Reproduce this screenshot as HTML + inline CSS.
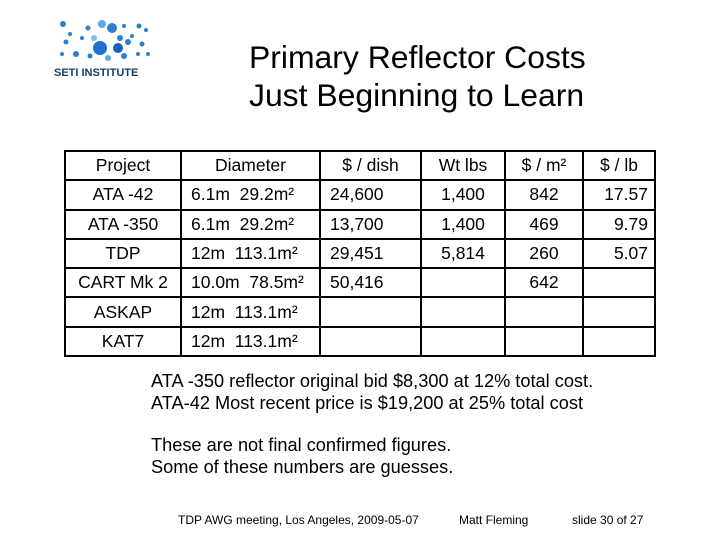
<!DOCTYPE html>
<html><head><meta charset="utf-8"><style>
body{margin:0;width:720px;height:540px;background:#fff;position:relative;font-family:"Liberation Sans",sans-serif;overflow:hidden}
.t{position:absolute;color:#000}
table{position:absolute;left:64px;top:150px;border-collapse:collapse;font-size:17.5px;table-layout:fixed;width:590px}
tr{height:29.3px}
td{border:2px solid #000;padding:0 4px;text-align:center;white-space:nowrap}
td.l{text-align:left;padding-left:9px}
td.r{text-align:right;padding-right:6px}
</style></head><body>
<div style="position:absolute;left:52px;top:16px;width:100px;height:64px">
<svg width="100" height="64">
<g fill="#2a7fd0">
<circle cx="11" cy="8" r="3"/><circle cx="36" cy="12" r="2.5"/><circle cx="50" cy="8" r="4" fill="#5aa9e6"/><circle cx="60" cy="12" r="5"/><circle cx="72" cy="10" r="2"/><circle cx="87" cy="10" r="2.5"/><circle cx="94" cy="14" r="2"/>
<circle cx="18" cy="18" r="2"/><circle cx="30" cy="22" r="2"/><circle cx="42" cy="22" r="3" fill="#7cc0ee"/><circle cx="68" cy="22" r="3"/><circle cx="80" cy="20" r="2"/>
<circle cx="14" cy="26" r="2.5"/><circle cx="48" cy="32" r="7" fill="#1e6fd0"/><circle cx="66" cy="32" r="5" fill="#1a5fc0"/><circle cx="76" cy="26" r="3"/><circle cx="90" cy="28" r="2.5"/>
<circle cx="10" cy="38" r="2"/><circle cx="24" cy="38" r="3"/><circle cx="38" cy="40" r="2.5"/><circle cx="56" cy="42" r="3" fill="#5aa9e6"/><circle cx="72" cy="40" r="3"/><circle cx="86" cy="38" r="2"/><circle cx="96" cy="38" r="2"/>
</g>
<text x="2" y="60" font-family="Liberation Sans" font-size="11" font-weight="bold" fill="#1a3a6a">SETI INSTITUTE</text>
</svg></div>
<div class="t" style="left:249px;top:38px;font-size:31.9px;line-height:38px">Primary Reflector Costs<br>Just Beginning to Learn</div>
<table>
<colgroup><col style="width:116px"><col style="width:139px"><col style="width:101px"><col style="width:84px"><col style="width:78px"><col style="width:72px"></colgroup>
<tr><td>Project</td><td>Diameter</td><td>$ / dish</td><td>Wt lbs</td><td>$ / m²</td><td>$ / lb</td></tr>
<tr><td>ATA -42</td><td class="l">6.1m&nbsp; 29.2m²</td><td class="l">24,600</td><td>1,400</td><td>842</td><td class="r">17.57</td></tr>
<tr><td>ATA -350</td><td class="l">6.1m&nbsp; 29.2m²</td><td class="l">13,700</td><td>1,400</td><td>469</td><td class="r">9.79</td></tr>
<tr><td>TDP</td><td class="l">12m&nbsp; 113.1m²</td><td class="l">29,451</td><td>5,814</td><td>260</td><td class="r">5.07</td></tr>
<tr><td>CART Mk 2</td><td class="l">10.0m&nbsp; 78.5m²</td><td class="l">50,416</td><td></td><td>642</td><td></td></tr>
<tr><td>ASKAP</td><td class="l">12m&nbsp; 113.1m²</td><td></td><td></td><td></td><td></td></tr>
<tr><td>KAT7</td><td class="l">12m&nbsp; 113.1m²</td><td></td><td></td><td></td><td></td></tr>
</table>
<div class="t" style="left:151px;top:370px;font-size:18.2px;line-height:22px">ATA -350 reflector original bid $8,300 at 12% total cost.<br>ATA-42 Most recent price is $19,200 at 25% total cost</div>
<div class="t" style="left:151px;top:434px;font-size:18.2px;line-height:22px">These are not final confirmed figures.<br>Some of these numbers are guesses.</div>
<div class="t" style="left:178px;top:513px;font-size:12px">TDP AWG meeting, Los Angeles, 2009-05-07</div>
<div class="t" style="left:459px;top:513px;font-size:12px">Matt Fleming</div>
<div class="t" style="left:572px;top:513px;font-size:12px">slide 30 of 27</div>
</body></html>
